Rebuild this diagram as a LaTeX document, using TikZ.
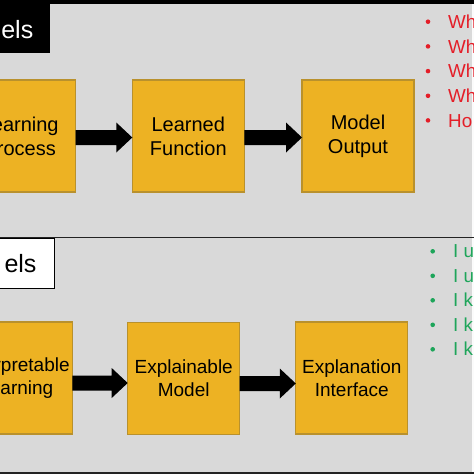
\documentclass[tikz,border=0pt]{standalone}
\usepackage{fontspec}
\setmainfont{Liberation Sans}
\usetikzlibrary{calc}
\definecolor{bg}{RGB}{217,217,217}
\definecolor{gold}{RGB}{237,178,35}
\definecolor{goldedge}{RGB}{185,145,45}
\definecolor{qred}{RGB}{228,30,40}
\definecolor{qgreen}{RGB}{30,165,90}
\definecolor{darkline}{RGB}{35,35,35}
\begin{document}
\begin{tikzpicture}[x=1pt,y=-1pt,
  boxA/.style={draw=goldedge, line width=1.2pt, fill=gold, minimum width=112pt, minimum height=112pt, align=center, inner sep=0pt, text=black, font=\fontsize{20}{24}\selectfont},
  boxB/.style={boxA, font=\fontsize{19}{23}\selectfont},
  hdr/.style={inner sep=0pt, anchor=base east, font=\fontsize{25}{30}\selectfont},
  qtext/.style={inner sep=0pt, anchor=base west, font=\fontsize{18.8}{22}\selectfont},
  dotmark/.style={circle, inner sep=0pt, minimum size=4.6pt}
]
\useasboundingbox (0,0) rectangle (474,474);
\clip (0,0) rectangle (474,474);
% backgrounds
\fill[bg] (0,0) rectangle (474,474);
\fill[black] (0,0) rectangle (474,4);
\fill[darkline] (0,236.5) rectangle (474,238.3);
\fill[darkline] (0,471.5) rectangle (474,474);
\fill[white!90!bg] (472,4) rectangle (474,236.5);
\fill[white!90!bg] (472,238.3) rectangle (474,471.5);
% header boxes
\fill[black] (-2,4) rectangle (50,52.7);
\node[hdr, text=white] (h1) at (33.5,38.3) {els};
\draw[black, line width=0.9pt, fill=white] (-2,238.3) rectangle (54.3,288.3);
\node[hdr, text=black] (h2) at (36.7,272.7) {els};
% top row
\node[boxA] (b1) at (19.7,136) {Learning\\Process};
\node[boxA] (b2) at (188.3,136) {Learned\\Function};
\node[boxA] (b3) at (358,136) {Model\\Output};
% bottom row
\node[boxB] (c1) at (16.3,378) {Interpretable\\Learning};
\node[boxB] (c2) at (183.7,378.5) {Explainable\\Model};
\node[boxB] (c3) at (351.8,378) {Explanation\\Interface};
% arrows (block arrows from box to box)
\foreach \a/\b/\d in {b1/b2/1.5, b2/b3/1.5, c1/c2/5, c2/c3/5}{
  \fill[black] let \p1=($(\a.east)+(-0.6,\d)$), \p2=($(\b.west)+(0.6,\d)$) in
    (\x1,\y1+7.5pt) -- (\x2-16pt,\y1+7.5pt) -- (\x2-16pt,\y1+15pt) -- (\x2,\y1)
    -- (\x2-16pt,\y1-15pt) -- (\x2-16pt,\y1-7.5pt) -- (\x1,\y1-7.5pt) -- cycle;
}
% red questions
\foreach \t/\y [count=\i] in {Wh/28.3, Wh/53, Wh/77.7, Wh/102.4, Ho/127}{
  \node[dotmark, fill=qred] (rd\i) at (428,\y-6.6) {};
  \node[qtext, text=qred] (rq\i) at (448,\y) {\t};
}
% green answers
\foreach \t/\y [count=\i] in {I u/257.7, I u/282.2, I k/306.7, I k/331.2, I k/355.7}{
  \node[dotmark, fill=qgreen] (gd\i) at (432.7,\y-6.4) {};
  \node[qtext, text=qgreen] (gq\i) at (453,\y) {\t};
}
\end{tikzpicture}
\end{document}
